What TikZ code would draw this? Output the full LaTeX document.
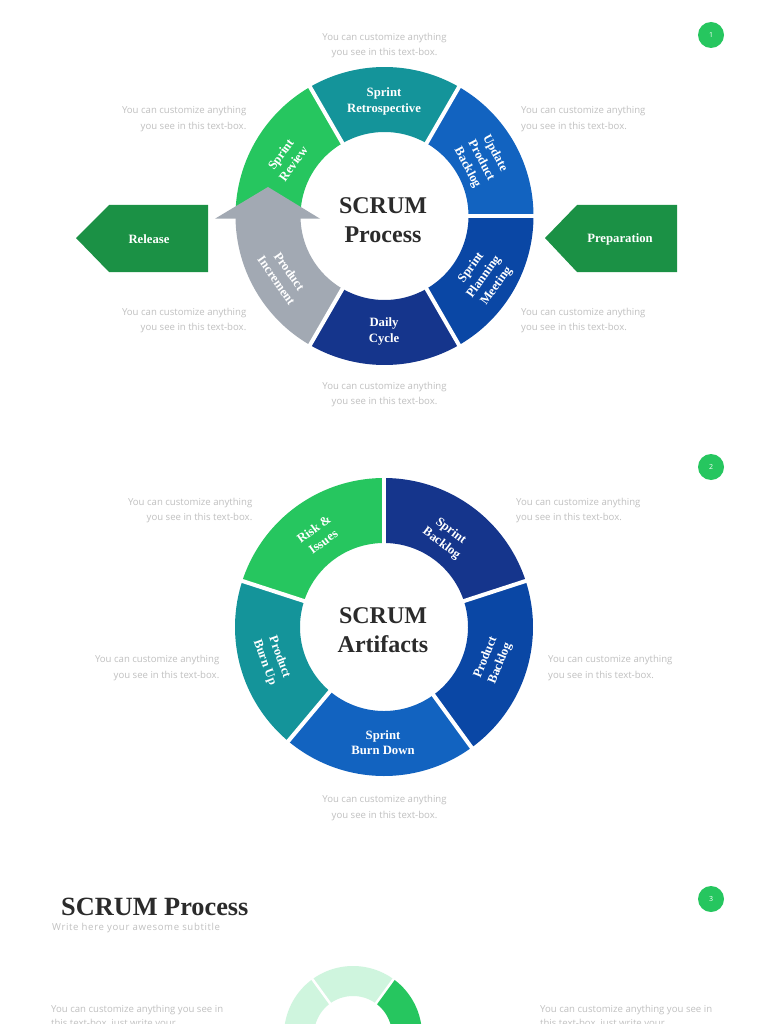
\documentclass[tikz,border=0pt]{standalone}
\usepackage{fontspec}
\setmainfont{Liberation Serif}
\newfontfamily\greyfont{Open Sans}
\definecolor{cgreen}{HTML}{26C65F}
\definecolor{cteal}{HTML}{14949A}
\definecolor{cblue}{HTML}{1263C0}
\definecolor{cdeep}{HTML}{0A47A5}
\definecolor{cnavy}{HTML}{15358C}
\definecolor{cgray}{HTML}{A2A9B3}
\definecolor{cflag}{HTML}{1B9145}
\definecolor{cpale}{HTML}{CFF5DE}
\definecolor{ctext}{HTML}{C0C0C0}
\definecolor{cdark}{HTML}{2B2B2B}
\newcommand{\ringseg}[7]{%
  \fill[#7] plot[domain=#5:#6,samples=60] ({#1+#4*cos(\x)},{#2-#4*sin(\x)})
    -- plot[domain=#6:#5,samples=60] ({#1+#3*cos(\x)},{#2-#3*sin(\x)}) -- cycle;}
\newcommand{\ringgap}[6]{%
  \draw[white,line width=#6pt] ({#1+#3*cos(#5)},{#2-#3*sin(#5)}) -- ({#1+#4*cos(#5)},{#2-#4*sin(#5)});}
\tikzset{
  seglabel/.style={text=white,font=\bfseries\fontsize{12.7}{15.6}\selectfont,align=center,inner sep=0pt},
  centerlabel/.style={text=cdark,font=\bfseries\fontsize{24}{29}\selectfont,align=center,inner sep=0pt},
  note/.style={text=ctext,font=\greyfont\fontsize{9.6}{15.8}\selectfont,inner sep=0pt},
  flag/.style={fill=cflag},
  flaglabel/.style={text=white,font=\bfseries\fontsize{12.7}{15}\selectfont,inner sep=0pt},
  badge/.style={circle,fill=cgreen,minimum size=26pt,inner sep=0pt,text=white,font=\greyfont\fontsize{7}{8}\selectfont}
}
\begin{document}
\begin{tikzpicture}[x=1pt,y=-1pt]
\useasboundingbox (0,0) rectangle (768,1024);
\clip (0,0) rectangle (768,1024);
\fill[white] (0,0) rectangle (768,1024);
% ring 1
\ringseg{384.5}{216}{84}{149}{0}{60}{cblue}
\ringseg{384.5}{216}{84}{149}{60}{120}{cteal}
\ringseg{384.5}{216}{84}{149}{120}{180}{cgreen}
\ringseg{384.5}{216}{84}{149}{180}{240}{cgray}
\ringseg{384.5}{216}{84}{149}{240}{300}{cnavy}
\ringseg{384.5}{216}{84}{149}{300}{360}{cdeep}
\foreach \a in {0,60,120,240,300} {\ringgap{384.5}{216}{80}{153}{\a}{4}}
\fill[cgray] (215,218.7) -- (268,187) -- (320,218.7) -- cycle;
\fill[flag] (76,238) -- (109,205) -- (208,205) -- (208,272) -- (109,272) -- cycle;
\fill[flag] (545,238) -- (577,205) -- (677,205) -- (677,272) -- (577,272) -- cycle;
\node[flaglabel] (release) at (149,239) {Release};
\node[flaglabel] (prep) at (620,239) {Preparation};
\node[centerlabel] (c1) at (383,220.5) {SCRUM\\Process};
\node[seglabel] (s1) at (384,101.5) {Sprint\\Retrospective};
\node[seglabel,rotate=-62] (s2) at (481,160.5) {Update\\Product\\Backlog};
\node[seglabel,rotate=54] (s3) at (484,277) {Sprint\\Planning\\Meeting};
\node[seglabel] (s4) at (384,331.5) {Daily\\Cycle};
\node[seglabel,rotate=-55] (s5) at (283,276) {Product\\Increment};
\node[seglabel,rotate=54] (s6) at (287,159) {Sprint\\Review};
\node[note,align=center] (n1) at (384.5,45.5) {You can customize anything\\you see in this text-box.};
\node[note,align=right,anchor=east] (n2) at (246.5,119) {You can customize anything\\you see in this text-box.};
\node[note,align=left,anchor=west] (n3) at (521,119) {You can customize anything\\you see in this text-box.};
\node[note,align=right,anchor=east] (n4) at (246.5,320.5) {You can customize anything\\you see in this text-box.};
\node[note,align=left,anchor=west] (n5) at (521,320.5) {You can customize anything\\you see in this text-box.};
\node[note,align=center] (n6) at (384.5,394.5) {You can customize anything\\you see in this text-box.};
\node[badge] (b1) at (711,35) {1};
% ring 2
\ringseg{384}{627}{84}{149}{18}{90}{cnavy}
\ringseg{384}{627}{84}{149}{-54}{18}{cdeep}
\ringseg{384}{627}{84}{149}{-130}{-54}{cblue}
\ringseg{384}{627}{84}{149}{-198}{-130}{cteal}
\ringseg{384}{627}{84}{149}{90}{162}{cgreen}
\foreach \a in {18,90,162,230,306} {\ringgap{384}{627}{80}{153}{\a}{4}}
\node[centerlabel] (c2) at (383,630) {SCRUM\\Artifacts};
\node[seglabel,rotate=-37] (t1) at (446,537.5) {Sprint\\Backlog};
\node[seglabel,rotate=68] (t2) at (493,660.5) {Product\\Backlog};
\node[seglabel] (t3) at (383,742.5) {Sprint\\Burn Down};
\node[seglabel,rotate=-70] (t4) at (272,660) {Product\\Burn Up};
\node[seglabel,rotate=36] (t5) at (318.5,535.5) {Risk \&\\Issues};
\node[note,align=right,anchor=east] (m1) at (252.5,510.5) {You can customize anything\\you see in this text-box.};
\node[note,align=left,anchor=west] (m2) at (516,510.5) {You can customize anything\\you see in this text-box.};
\node[note,align=right,anchor=east] (m3) at (219.5,668) {You can customize anything\\you see in this text-box.};
\node[note,align=left,anchor=west] (m4) at (548,668) {You can customize anything\\you see in this text-box.};
\node[note,align=center] (m5) at (384.5,808) {You can customize anything\\you see in this text-box.};
\node[badge] (b2) at (711,467) {2};
% ring 3
\ringseg{353}{1035}{39}{69}{54}{126}{cpale}
\ringseg{353}{1035}{39}{69}{126}{198}{cpale}
\ringseg{353}{1035}{39}{69}{-18}{54}{cgreen}
\foreach \a in {54,126} {\ringgap{353}{1035}{36}{72}{\a}{2.5}}
\node[anchor=base west,text=cdark,font=\bfseries\fontsize{26.3}{30}\selectfont,inner sep=0pt] (title) at (61,915) {SCRUM Process};
\node[anchor=base west,text=ctext,font=\greyfont\fontsize{9.6}{12}\selectfont,inner sep=0pt] (sub) at (52,930) {\addfontfeature{LetterSpace=6.5}Write here your awesome subtitle};
\node[note,align=left,anchor=base west,font=\greyfont\fontsize{9.6}{14}\selectfont] (l1) at (51,1026) {You can customize anything you see in\\this text-box, just write your};
\node[note,align=left,anchor=base west,font=\greyfont\fontsize{9.6}{14}\selectfont] (l2) at (540,1026) {You can customize anything you see in\\this text-box, just write your};
\node[badge] (b3) at (711,899) {3};
\end{tikzpicture}
\end{document}
